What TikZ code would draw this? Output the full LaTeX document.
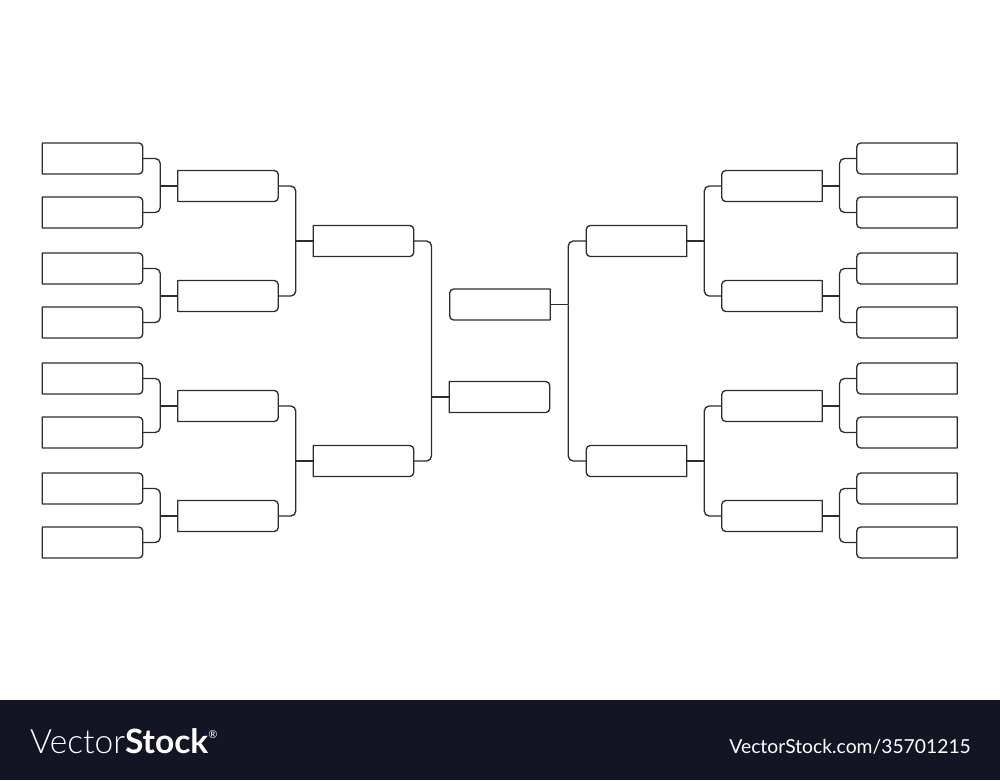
\documentclass[tikz,border=0pt]{standalone}
\usepackage{fontspec}
\setmainfont{Lato}
\newfontfamily\latolight{Lato}[UprightFont=* Light]
\usetikzlibrary{calc}
\definecolor{barbg}{RGB}{19,20,36}
\definecolor{lncol}{RGB}{45,45,45}
\tikzset{
  ln/.style={line width=1.35pt, draw=lncol, line join=round},
  slot/.style={minimum width=100.5pt, minimum height=31pt, inner sep=0pt, outer sep=0pt}
}
\newcommand\shapeR[1]{\draw[ln] (#1.north west) -- ([xshift=-4pt]#1.north east) arc[start angle=90,end angle=0,radius=4pt] -- ([yshift=4pt]#1.south east) arc[start angle=0,end angle=-90,radius=4pt] -- (#1.south west) -- cycle;}
\newcommand\shapeL[1]{\draw[ln] (#1.north east) -- ([xshift=4pt]#1.north west) arc[start angle=90,end angle=180,radius=4pt] -- ([yshift=4pt]#1.south west) arc[start angle=180,end angle=270,radius=4pt] -- (#1.south east) -- cycle;}
\newcommand\joinL[4]{%
  \coordinate (#4x) at ($(#1.east)!0.5!(#3.west)$);
  \coordinate (#4) at (#4x |- #3.west);
  \draw[ln, rounded corners=5pt] (#1.east) -| (#4);
  \draw[ln, rounded corners=5pt] (#2.east) -| (#4);
  \draw[ln] (#4) -- (#3.west);}
\newcommand\joinR[4]{%
  \coordinate (#4x) at ($(#1.west)!0.5!(#3.east)$);
  \coordinate (#4) at (#4x |- #3.east);
  \draw[ln, rounded corners=5pt] (#1.west) -| (#4);
  \draw[ln, rounded corners=5pt] (#2.west) -| (#4);
  \draw[ln] (#4) -- (#3.east);}
\begin{document}
\begin{tikzpicture}[x=1pt,y=-1pt]
\useasboundingbox (0,0) rectangle (1000,780);
\fill[barbg] (0,700) rectangle (1000,780);
% left side
\foreach \i/\y in {1/158.5,2/212.5,3/268.5,4/322.5,5/378.5,6/432.5,7/488.5,8/542.5}{
  \node[slot] (a\i) at (92.5,\y) {};
  \shapeR{a\i}
  \node[slot] (ra\i) at (907,\y) {};
  \shapeL{ra\i}
}
\foreach \i/\y in {1/186,2/296,3/406,4/516}{
  \node[slot] (b\i) at (228,\y) {};
  \shapeR{b\i}
  \node[slot] (rb\i) at (772,\y) {};
  \shapeL{rb\i}
}
\foreach \i/\y in {1/241,2/461}{
  \node[slot] (c\i) at (363.5,\y) {};
  \shapeR{c\i}
  \node[slot] (rc\i) at (636.5,\y) {};
  \shapeL{rc\i}
}
\node[slot] (ft) at (500,304.5) {};
\shapeL{ft}
\node[slot] (fb) at (499.5,397) {};
\shapeR{fb}
% joins left
\joinL{a1}{a2}{b1}{ja1}
\joinL{a3}{a4}{b2}{ja2}
\joinL{a5}{a6}{b3}{ja3}
\joinL{a7}{a8}{b4}{ja4}
\joinL{b1}{b2}{c1}{jb1}
\joinL{b3}{b4}{c2}{jb2}
\joinL{c1}{c2}{fb}{jc1}
% joins right
\joinR{ra1}{ra2}{rb1}{ka1}
\joinR{ra3}{ra4}{rb2}{ka2}
\joinR{ra5}{ra6}{rb3}{ka3}
\joinR{ra7}{ra8}{rb4}{ka4}
\joinR{rb1}{rb2}{rc1}{kb1}
\joinR{rb3}{rb4}{rc2}{kb2}
\joinR{rc1}{rc2}{ft}{kc1}
% watermark bar
\node[anchor=base west, text=white, inner sep=0pt, font=\fontsize{33.5}{33.5}\selectfont] (wm) at (30,753) {{\latolight Vector}\textbf{Stock}\raisebox{15pt}{\fontsize{11}{11}\selectfont ®}};
\node[anchor=base east, text=white, inner sep=0pt, font=\fontsize{19.3}{19.3}\selectfont] (url) at (971,753) {VectorStock.com/35701215};
\end{tikzpicture}
\end{document}
